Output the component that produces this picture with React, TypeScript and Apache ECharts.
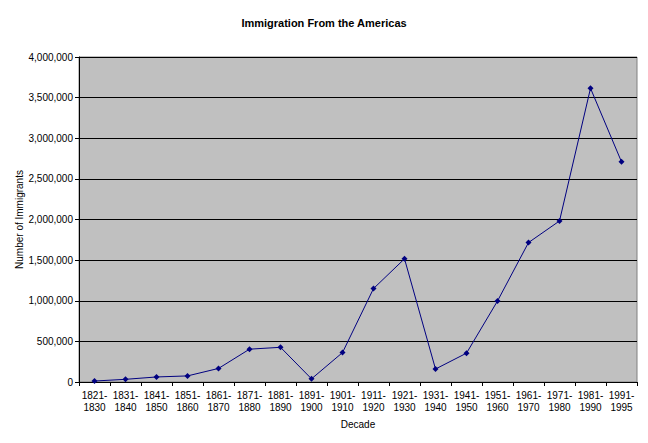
import React, { useEffect, useRef } from 'react';
import * as echarts from 'echarts';

const decades: string[] = [
  '1821-\n1830', '1831-\n1840', '1841-\n1850', '1851-\n1860', '1861-\n1870', '1871-\n1880',
  '1881-\n1890', '1891-\n1900', '1901-\n1910', '1911-\n1920', '1921-\n1930', '1931-\n1940',
  '1941-\n1950', '1951-\n1960', '1961-\n1970', '1971-\n1980', '1981-\n1990', '1991-\n1995',
];

const immigrants: number[] = [
  12000, 33000, 62000, 75000, 167000, 404000,
  427000, 39000, 362000, 1150000, 1516000, 160000,
  355000, 997000, 1716000, 1982000, 3615000, 2710000,
];

const font = '"Liberation Sans", Arial, sans-serif';

const App = () => {
  const chartRef = useRef<HTMLDivElement>(null);

  useEffect(() => {
    document.body.style.margin = '0';
    const chart = echarts.init(chartRef.current, null, { renderer: 'svg' });
    chart.setOption({
      animation: false,
      backgroundColor: '#ffffff',
      textStyle: { fontFamily: font },
      title: {
        text: 'Immigration From the Americas',
        left: 'center',
        top: 12,
        textStyle: { fontFamily: font, fontSize: 11, fontWeight: 'bold', color: '#000' },
      },
      grid: {
        left: 79,
        right: 11,
        top: 57,
        bottom: 61,
        show: true,
        backgroundColor: '#c0c0c0',
        borderColor: '#808080',
        borderWidth: 1,
      },
      xAxis: {
        type: 'category',
        data: decades,
        boundaryGap: true,
        name: 'Decade',
        nameLocation: 'middle',
        nameGap: 37,
        nameMoveOverlap: false,
        nameTextStyle: { fontFamily: font, fontSize: 10, color: '#000' },
        axisLine: { lineStyle: { color: '#000', width: 1 } },
        axisTick: { show: true, length: 4, alignWithLabel: false, lineStyle: { color: '#000' } },
        axisLabel: {
          interval: 0,
          margin: 7,
          fontFamily: font,
          fontSize: 10,
          lineHeight: 12,
          color: '#000',
        },
        splitLine: { show: false },
      },
      yAxis: {
        type: 'value',
        min: 0,
        max: 4000000,
        interval: 500000,
        name: 'Number of Immigrants',
        nameLocation: 'middle',
        nameGap: 55,
        nameMoveOverlap: false,
        nameTextStyle: { fontFamily: font, fontSize: 10, color: '#000' },
        axisLine: { show: true, lineStyle: { color: '#000', width: 1 } },
        axisTick: { show: true, length: 4, lineStyle: { color: '#000' } },
        axisLabel: {
          margin: 6,
          fontFamily: font,
          fontSize: 10,
          color: '#000',
          formatter: (v: number) => v.toLocaleString('en-US'),
        },
        splitLine: { show: true, lineStyle: { color: '#000', width: 1 } },
      },
      series: [
        {
          type: 'line',
          data: immigrants,
          symbol: 'diamond',
          symbolSize: 6,
          lineStyle: { color: '#000080', width: 1 },
          itemStyle: { color: '#000080' },
        },
      ],
    });
    return () => {
      chart.dispose();
    };
  }, []);

  return <div ref={chartRef} style={{ width: 648, height: 443 }} />;
};

export default App;
